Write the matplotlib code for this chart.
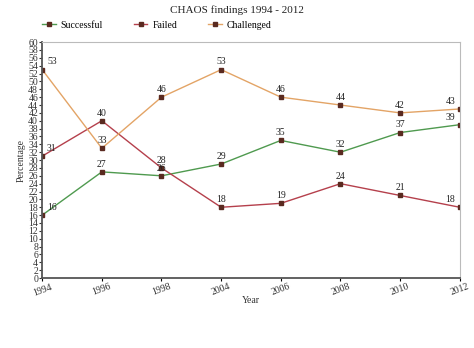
import matplotlib.pyplot as plt

years = ["1994", "1996", "1998", "2004", "2006", "2008", "2010", "2012"]
successful = [16, 27, 26, 29, 35, 32, 37, 39]
failed = [31, 40, 28, 18, 19, 24, 21, 18]
challenged = [53, 33, 46, 53, 46, 44, 42, 43]

plt.rcParams['font.family'] = ['Liberation Serif', 'DejaVu Serif']

fig = plt.figure(figsize=(4.74, 3.48), dpi=100)
ax = fig.add_axes([0.089, 0.201, 0.881, 0.678])

x = list(range(len(years)))
series = [
    ("Successful", successful, "#4f9a4f"),
    ("Failed", failed, "#b5404c"),
    ("Challenged", challenged, "#e3a466"),
]
for name, vals, col in series:
    ax.plot(x, vals, color=col, lw=1.0, marker="s", markersize=2.3,
            markerfacecolor="#5a2a20", markeredgecolor="#5a2a20", label=name)
    for i, v in enumerate(vals):
        dx = 0.08 if i == 0 else (-0.08 if i == len(vals) - 1 else 0)
        ax.text(i + dx, v + 0.8, str(v), fontsize=7, color="#222222",
                ha="left" if i == 0 else ("right" if i == len(vals) - 1 else "center"),
                va="bottom")

ax.set_xlim(0, len(years) - 1)
ax.set_ylim(0, 60)
ax.set_yticks(range(0, 61, 2))
ax.set_xticks(x)
ax.set_xticklabels(years, rotation=20, fontsize=7, color="#333333")
ax.tick_params(axis="y", labelsize=7, length=2, pad=1, colors="#333333")
ax.tick_params(axis="x", length=2, pad=1)
for lab in ax.get_xticklabels():
    lab.set_ha("center")

ax.spines["left"].set_color("#555555")
ax.spines["bottom"].set_color("#555555")
ax.spines["left"].set_linewidth(1.3)
ax.spines["bottom"].set_linewidth(1.3)
ax.spines["top"].set_color("#bbbbbb")
ax.spines["right"].set_color("#bbbbbb")

ax.set_ylabel("Percentage", fontsize=7, color="#333333", labelpad=2)
ax.set_xlabel("Year", fontsize=7, color="#333333", labelpad=-1)

fig.text(0.5, 0.972, "CHAOS findings 1994 - 2012", ha="center", va="center",
         fontsize=8, color="#222222")
fig.legend(loc="center left", bbox_to_anchor=(0.07, 0.928), ncol=3, frameon=False,
           fontsize=7, handlelength=1.4, columnspacing=3.2, handletextpad=0.5)

fig.savefig("out.png", dpi=100)
